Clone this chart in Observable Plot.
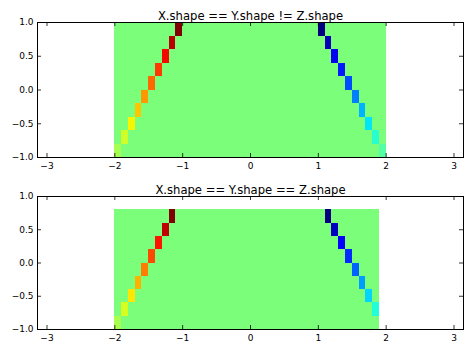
<!DOCTYPE html>
<html>
<head>
<meta charset="utf-8">
<script src="https://cdn.jsdelivr.net/npm/d3@7"></script>
<script src="https://cdn.jsdelivr.net/npm/@observablehq/plot@0.6"></script>
<style>
  html, body { margin: 0; padding: 0; background: #fff; }
  #chart { width: 474px; height: 353px; position: relative; font-family: "DejaVu Sans", sans-serif; }
  #chart svg { display: block; }
</style>
</head>
<body>
<div id="chart"></div>
<script>
// Cell edges of the mesh
const xEdges = [-2.0, -1.9, -1.8, -1.7, -1.6, -1.5, -1.4, -1.3, -1.2, -1.1, -1.0,
  -0.9, -0.8, -0.7, -0.6, -0.5, -0.4, -0.3, -0.2, -0.1, 0.0,
  0.1, 0.2, 0.3, 0.4, 0.5, 0.6, 0.7, 0.8, 0.9, 1.0,
  1.1, 1.2, 1.3, 1.4, 1.5, 1.6, 1.7, 1.8, 1.9, 2.0];
const yEdges = [-1.0, -0.8, -0.6, -0.4, -0.2, 0.0, 0.2, 0.4, 0.6, 0.8, 1.0];
// Non-zero cells per row (row 0 = bottom): column index of the left and right diagonals
const leftCol  = [0, 1, 2, 3, 4, 5, 6, 7, 8, 9];
const rightCol = [39, 38, 37, 36, 35, 34, 33, 32, 31, 30];
const leftValue  = [1, 2, 3, 4, 5, 6, 7, 8, 9, 10];
const rightValue = [-1, -2, -3, -4, -5, -6, -7, -8, -9, -10];
const titles = ["X.shape == Y.shape != Z.shape", "X.shape == Y.shape == Z.shape"];
const xTicks = [-3, -2, -1, 0, 1, 2, 3];
const yTicks = [-1.0, -0.5, 0.0, 0.5, 1.0];

const nRows = yEdges.length - 1, nCols = xEdges.length - 1;
const Z = [];
for (let i = 0; i < nRows; i++) {
  const row = new Array(nCols).fill(0);
  row[leftCol[i]] = leftValue[i];
  row[rightCol[i]] = rightValue[i];
  Z.push(row);
}

// matplotlib "jet" colormap
function seg(pts, t) {
  for (let k = 1; k < pts.length; k++) {
    if (t <= pts[k][0]) {
      const [x0, y0] = pts[k - 1], [x1, y1] = pts[k];
      return y0 + (y1 - y0) * (t - x0) / (x1 - x0);
    }
  }
  return pts[pts.length - 1][1];
}
const R = [[0, 0], [0.35, 0], [0.66, 1], [0.89, 1], [1, 0.5]];
const G = [[0, 0], [0.125, 0], [0.375, 1], [0.64, 1], [0.91, 0], [1, 0]];
const B = [[0, 0.5], [0.11, 1], [0.34, 1], [0.65, 0], [1, 0]];
const jet = (t) => {
  t = Math.max(0, Math.min(1, t));
  return `rgb(${Math.round(255 * seg(R, t))},${Math.round(255 * seg(G, t))},${Math.round(255 * seg(B, t))})`;
};

// Top panel: X, Y are edges (shape + 1); bottom panel: same shape, last row/col of Z dropped
function cells(dropLast) {
  const out = [];
  const nr = dropLast ? nRows - 1 : nRows;
  const nc = dropLast ? nCols - 1 : nCols;
  for (let i = 0; i < nr; i++)
    for (let j = 0; j < nc; j++)
      out.push({x1: xEdges[j], x2: xEdges[j + 1], y1: yEdges[i], y2: yEdges[i + 1], z: Z[i][j]});
  return out;
}

function panel(data, title, height, mt, mb) {
  const ml = 37, mr = 11;
  const fh = height - mt - mb, fw = 474 - ml - mr;
  const ext = d3.max(data, d => Math.abs(d.z));
  return Plot.plot({
    width: 474, height,
    marginTop: mt, marginBottom: mb, marginLeft: ml, marginRight: mr,
    style: {fontFamily: "DejaVu Sans, sans-serif", fontSize: "9px", background: "white", color: "black"},
    x: {domain: [-3.14, 3.14], ticks: xTicks, tickFormat: d3.format("d"), label: null},
    y: {domain: [-1, 1], ticks: yTicks, tickFormat: d3.format(".1f"), label: null},
    color: {type: "linear", domain: [-ext, ext], interpolate: jet},
    marks: [
      Plot.rect(data, {x1: "x1", x2: "x2", y1: "y1", y2: "y2", fill: "z", shapeRendering: "crispEdges"}),
      Plot.axisX({ticks: xTicks, tickSize: 0, tickPadding: 5, tickFormat: d3.format("d"), fontSize: 9}),
      Plot.axisY({ticks: yTicks, tickSize: 0, tickPadding: 4, tickFormat: d3.format(".1f"), fontSize: 9}),
      Plot.tickX(xTicks, {x: d => d, insetTop: fh - 4, stroke: "black", strokeWidth: 0.8}),
      Plot.tickX(xTicks, {x: d => d, insetBottom: fh - 4, stroke: "black", strokeWidth: 0.8}),
      Plot.tickY(yTicks, {y: d => d, insetRight: fw - 4, stroke: "black", strokeWidth: 0.8}),
      Plot.tickY(yTicks, {y: d => d, insetLeft: fw - 4, stroke: "black", strokeWidth: 0.8}),
      Plot.frame({stroke: "black", strokeWidth: 1}),
      Plot.text([title], {text: d => d, frameAnchor: "top", lineAnchor: "bottom", dy: -3, fontSize: 11.6, fill: "black"})
    ]
  });
}

const root = document.getElementById("chart");
root.append(panel(cells(false), titles[0], 176, 22, 19));
root.append(panel(cells(true), titles[1], 177, 20, 24));
</script>
</body>
</html>
